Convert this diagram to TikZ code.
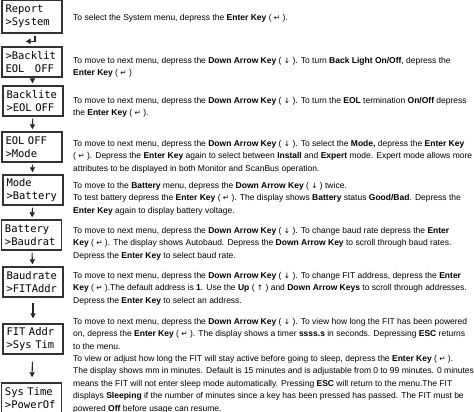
\documentclass[tikz,border=0pt]{standalone}
\usepackage{fontspec}
\setmainfont{Liberation Sans}
\newfontfamily\lcdfont[WordSpace={1,0,0}]{DejaVu Sans Mono}
\newfontfamily\symfont{DejaVu Sans}
\usetikzlibrary{arrows.meta}
\newcommand{\dnk}{{\symfont\fontsize{7.5}{7.5}\selectfont ↓}}
\newcommand{\upk}{{\symfont\fontsize{7.5}{7.5}\selectfont ↑}}
\newcommand{\entk}{{\symfont\fontsize{7.5}{7.5}\selectfont ↵}}
\tikzset{
    LCD/.style ={rectangle,draw=black!80,fill=white,line width=1.4pt,text width=53pt,minimum height=30pt,
        inner xsep=3.5pt,inner ysep=1pt,align=left,font=\lcdfont\fontsize{10.5}{13.5}\selectfont},
    TX/.style ={anchor=base west,align=left,inner sep=0pt,font=\fontsize{8.5}{12.5}\selectfont},
    DN/.style ={-{Triangle[width=5pt,length=5pt]},line width=1.1pt,black!85,shorten <=2pt,shorten >=2pt},
    ENT/.style ={-{Triangle[width=5.5pt,length=4.5pt]},line width=1.3pt,black!85}}

\begin{document}
\begin{tikzpicture}[x=1pt,y=-1pt]
    \useasboundingbox (0,0) rectangle (474,412);
    \node[LCD,minimum height=33pt](m1) at(32,16.5){Report\\>System};
    \node[LCD](m2) at(32,62){>Backlit\\EOL\ \ \ OFF};
    \node[LCD](m3) at(33,101){Backlite\\>EOL OFF};
    \node[LCD](m4) at(32,147){EOL OFF\\>Mode};
    \node[LCD](m5) at(33,190){Mode\\>Battery};
    \node[LCD](m6) at(31.5,235){Battery\\>Baudrat};
    \node[LCD](m7) at(33,282){Baudrate\\>FITAddr};
    \node[LCD](m8) at(33,339){FIT Addr\\>Sys Tim};
    \node[LCD](m9) at(31.5,398){Sys Time\\>PowerOf};
    \draw[ENT] ([xshift=3pt,yshift=-2pt]m1.south) |- ([xshift=-6pt,yshift=5pt]m2.north);
    \draw[DN] (m2) -- (m3);
    \draw[DN] (m3) -- (m4);
    \draw[DN] (m4) -- (m5);
    \draw[DN] (m5) -- (m6);
    \draw[DN] (m6) -- (m7);
    \draw[DN,shorten <=5pt,shorten >=5pt] (m7) -- (m8);
    \draw[DN,shorten <=7pt,shorten >=5pt] (m8) -- (m9);
    \node[TX](t1) at(73,21){To select the System menu, depress the \textbf{Enter Key} ( \entk\ ).};
    \node[TX](t2) at(73,75.5){To move to next menu, depress the \textbf{Down Arrow Key} ( \dnk\ ). To turn \textbf{Back Light On/Off}, depress the\\
        \textbf{Enter Key} ( \entk\ )};
    \node[TX](t3) at(73,115.5){To move to next menu, depress the \textbf{Down Arrow Key} ( \dnk\ ). To turn the \textbf{EOL} termination \textbf{On/Off} depress\\
        the \textbf{Enter Key} ( \entk\ ).};
    \node[TX](t4) at(73,171){To move to next menu, depress the \textbf{Down Arrow Key} ( \dnk\ ). To select the \textbf{Mode,} depress the \textbf{Enter Key}\\
        ( \entk\ ). Depress the \textbf{Enter Key} again to select between \textbf{Install} and \textbf{Expert} mode. Expert mode allows more\\
        attributes to be displayed in both Monitor and ScanBus operation.};
    \node[TX](t5) at(73,213){To move to the \textbf{Battery} menu, depress the \textbf{Down Arrow Key} ( \dnk\ ) twice.\\
        To test battery depress the \textbf{Enter Key} ( \entk\ ). The display shows \textbf{Battery} status \textbf{Good/Bad}. Depress the\\
        \textbf{Enter Key} again to display battery voltage.};
    \node[TX](t6) at(73,258){To move to next menu, depress the \textbf{Down Arrow Key} ( \dnk\ ). To change baud rate depress the \textbf{Enter}\\
        \textbf{Key} ( \entk\ ). The display shows Autobaud. Depress the \textbf{Down Arrow Key} to scroll through baud rates.\\
        Depress the \textbf{Enter Key} to select baud rate.};
    \node[TX](t7) at(73,303){To move to next menu, depress the \textbf{Down Arrow Key} ( \dnk\ ). To change FIT address, depress the \textbf{Enter}\\
        \textbf{Key} ( \entk\ ).The default address is \textbf{1}. Use the \textbf{Up} ( \upk\ ) and \textbf{Down Arrow Keys} to scroll through addresses.\\
        Depress the \textbf{Enter Key} to select an address.};
    \node[TX](t8) at(73,349){To move to next menu, depress the \textbf{Down Arrow Key} ( \dnk\ ). To view how long the FIT has been powered\\
        on, depress the \textbf{Enter Key} ( \entk\ ). The display shows a timer \textbf{ssss.s} in seconds. Depressing \textbf{ESC} returns\\
        to the menu.};
    \node[TX](t9) at(73,411){To view or adjust how long the FIT will stay active before going to sleep, depress the \textbf{Enter Key} ( \entk\ ).\\
        The display shows mm in minutes. Default is 15 minutes and is adjustable from 0 to 99 minutes. 0 minutes\\
        means the FIT will not enter sleep mode automatically. Pressing \textbf{ESC} will return to the menu.The FIT\\
        displays \textbf{Sleeping} if the number of minutes since a key has been pressed has passed. The FIT must be\\
        powered \textbf{Off} before usage can resume.};
\end{tikzpicture}
\end{document}
